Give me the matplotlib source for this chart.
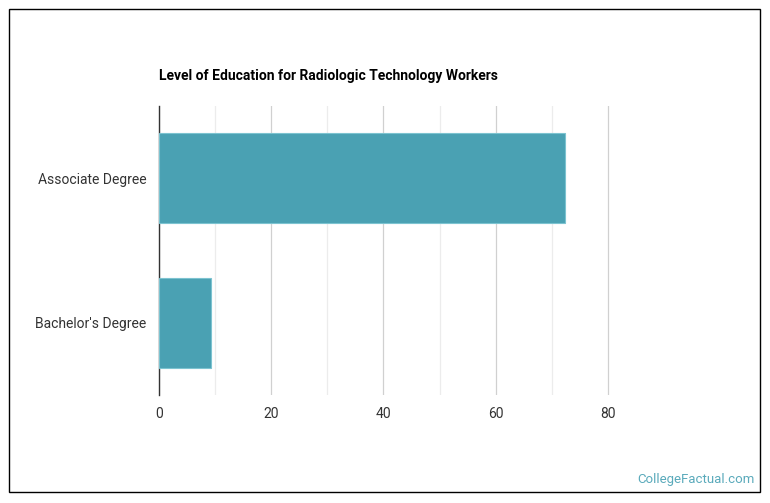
import matplotlib.pyplot as plt
from matplotlib.patches import Rectangle
from matplotlib.ticker import MultipleLocator

plt.rcParams['font.family'] = ['Roboto', 'DejaVu Sans']

degrees = ["Associate Degree", "Bachelor's Degree"]
shares = [72.3, 9.3]

fig = plt.figure(figsize=(7.7, 5.03), dpi=100)
ax = fig.add_axes([159 / 770, 108 / 503, 477 / 770, 289 / 503])

ax.barh(range(len(degrees)), shares, height=0.62, color='#4aa1b3',
        edgecolor='#7cc3d0', linewidth=0.8, zorder=3)

ax.set_ylim(1.5, -0.5)
ax.set_xlim(0, 85)
ax.set_yticks(range(len(degrees)))
ax.set_yticklabels(degrees)
ax.xaxis.set_major_locator(MultipleLocator(20))
ax.xaxis.set_minor_locator(MultipleLocator(10))
ax.grid(axis='x', which='major', color='#d0d0d0', linewidth=0.9, zorder=0)
ax.grid(axis='x', which='minor', color='#ececec', linewidth=0.9, zorder=0)
ax.tick_params(axis='both', which='both', length=0, labelsize=10, colors='#333333')
ax.tick_params(axis='y', pad=9)
ax.tick_params(axis='x', pad=9)
for side in ['top', 'right', 'bottom']:
    ax.spines[side].set_visible(False)
ax.spines['left'].set_color('#333333')
ax.spines['left'].set_linewidth(1)

fig.text(159 / 770, 1 - 76 / 503, 'Level of Education for Radiologic Technology Workers',
         fontsize=10, fontweight='bold', va='center', ha='left', color='black')
fig.text(755 / 770, 1 - 480 / 503, 'CollegeFactual.com', fontsize=9.5,
         color='#5aaabb', ha='right', va='center')

# frame around the whole chart
fig.patches.append(Rectangle((9 / 770, 11 / 503), 751 / 770, 483 / 503,
                             transform=fig.transFigure, fill=False,
                             edgecolor='black', linewidth=1))

fig.savefig('out.png', dpi=100)
